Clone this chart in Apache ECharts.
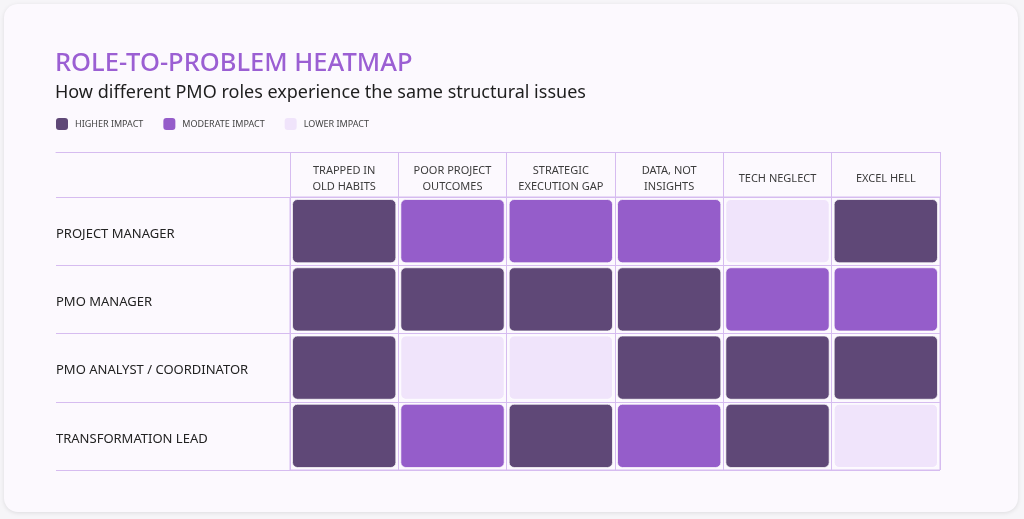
<!DOCTYPE html>
<html>
<head>
<meta charset="utf-8">
<script src="https://cdn.jsdelivr.net/npm/echarts@6/dist/echarts.min.js"></script>
<style>
  html, body { margin: 0; padding: 0; width: 1024px; height: 519px; background: #f6f5f8; overflow: hidden; }
  #card { position: absolute; left: 4px; top: 4px; width: 1014px; height: 508px; border-radius: 14px; background: #fcf9fe; box-shadow: 0 1px 4px rgba(0,0,0,0.10); }
  #chart { position: absolute; left: 0; top: 0; width: 1024px; height: 519px; }
</style>
</head>
<body>
<div id="card"></div>
<div id="chart"></div>
<script>
// ---- data ----
const problems = ['TRAPPED IN\nOLD HABITS', 'POOR PROJECT\nOUTCOMES', 'STRATEGIC\nEXECUTION GAP', 'DATA, NOT\nINSIGHTS', 'TECH NEGLECT', 'EXCEL HELL'];
const roles = ['PROJECT MANAGER', 'PMO MANAGER', 'PMO ANALYST / COORDINATOR', 'TRANSFORMATION LEAD'];
const levelNames = ['LOWER IMPACT', 'MODERATE IMPACT', 'HIGHER IMPACT'];
// impact level per role (rows) and problem (columns): 1 = lower, 2 = moderate, 3 = higher
const projectManager = [3, 2, 2, 2, 1, 3];
const pmoManager = [3, 3, 3, 3, 2, 2];
const pmoAnalyst = [3, 1, 1, 3, 3, 3];
const transformationLead = [3, 2, 3, 2, 3, 1];
const impactRows = [projectManager, pmoManager, pmoAnalyst, transformationLead];

// ---- styles ----
const levelColors = { 1: '#f0e4fb', 2: '#955dca', 3: '#5f4877' };
const lineColor = '#d6bcf0';
const FONT = '"Noto Sans", "Open Sans", sans-serif';

function cellsFor(level) {
  const out = [];
  impactRows.forEach((row, r) => row.forEach((v, c) => { if (v === level) out.push([c, r, v]); }));
  return out;
}

function renderCell(params, api) {
  const p = api.coord([api.value(0), api.value(1)]);
  const s = api.size([1, 1]);
  const pad = 2.5;
  return {
    type: 'rect',
    shape: { x: p[0] - s[0] / 2 + pad, y: p[1] - s[1] / 2 + pad, width: s[0] - pad * 2, height: s[1] - pad * 2, r: 5 },
    style: { fill: api.visual('color'), stroke: 'rgba(255,255,255,0.7)', lineWidth: 1 }
  };
}

const seriesOrder = [3, 2, 1];
const series = seriesOrder.map(level => ({
  name: levelNames[level - 1],
  type: 'custom',
  xAxisIndex: 0,
  yAxisIndex: 0,
  itemStyle: { color: levelColors[level] },
  renderItem: renderCell,
  encode: { x: 0, y: 1 },
  data: cellsFor(level)
}));

const chart = echarts.init(document.getElementById('chart'), null, { renderer: 'canvas' });
chart.setOption({
  backgroundColor: 'transparent',
  animation: false,
  title: [
    { text: 'ROLE-TO-PROBLEM HEATMAP', left: 55, top: 51, padding: 0,
      textStyle: { fontFamily: FONT, fontSize: 25.5, fontWeight: 500, color: '#9b5fd3' } },
    { text: 'How different PMO roles experience the same structural issues', left: 55, top: 84, padding: 0,
      textStyle: { fontFamily: FONT, fontSize: 18, fontWeight: 'normal', color: '#1e1e1e' } }
  ],
  legend: {
    left: 56, top: 118, padding: 0,
    icon: 'roundRect', itemWidth: 12, itemHeight: 12, itemGap: 20,
    data: seriesOrder.map(l => levelNames[l - 1]),
    textStyle: { fontFamily: FONT, fontSize: 9, color: '#444', padding: [1, 0, 0, 2] }
  },
  grid: [
    { left: 290, right: 84, top: 197, bottom: 49, show: true, borderColor: lineColor, borderWidth: 1, backgroundColor: 'transparent' },
    { left: 56, width: 234, top: 197, bottom: 49, show: false },
    { left: 56, right: 84, top: 152, height: 45, show: false }
  ],
  xAxis: [
    { gridIndex: 0, type: 'category', data: problems, position: 'top',
      axisLine: { show: false },
      axisTick: { show: true, length: 45, interval: 0, lineStyle: { color: lineColor } },
      axisLabel: { interval: 0, margin: 18, verticalAlign: 'middle', lineHeight: 15.5,
        fontFamily: FONT, fontSize: 11, color: '#3c3c3c' },
      splitLine: { show: true, interval: 0, lineStyle: { color: lineColor } } },
    { gridIndex: 1, type: 'category', data: [''], show: false },
    { gridIndex: 2, type: 'category', data: [''], position: 'top',
      axisLine: { show: true, lineStyle: { color: lineColor } },
      axisTick: { show: false }, axisLabel: { show: false } }
  ],
  yAxis: [
    { gridIndex: 0, type: 'category', data: roles, inverse: true,
      axisLine: { show: false }, axisTick: { show: false },
      axisLabel: { interval: 0, align: 'left', margin: 234,
        formatter: v => '{r|' + v + '}',
        rich: { r: { fontFamily: FONT, fontSize: 13, color: '#222', padding: [6, 0, 0, 0] } } },
      splitLine: { show: true, interval: 0, lineStyle: { color: lineColor } } },
    { gridIndex: 1, type: 'category', data: roles, inverse: true,
      axisLine: { show: false }, axisTick: { show: false }, axisLabel: { show: false },
      splitLine: { show: true, interval: 0, lineStyle: { color: lineColor } } },
    { gridIndex: 2, type: 'category', data: [''], show: false }
  ],
  series: series
});
</script>
</body>
</html>
